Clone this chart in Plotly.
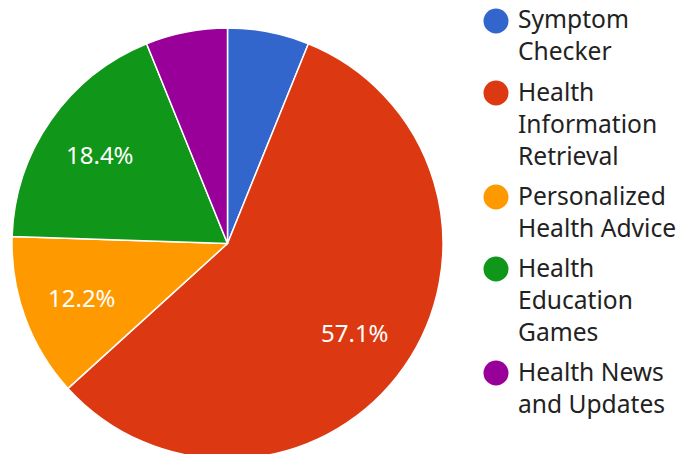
import math
import plotly.graph_objects as go

labels = ["Symptom Checker", "Health Information Retrieval", "Personalized Health Advice",
          "Health Education Games", "Health News and Updates"]
legend_lines = [["Symptom", "Checker"], ["Health", "Information", "Retrieval"],
                ["Personalized", "Health Advice"], ["Health", "Education", "Games"],
                ["Health News", "and Updates"]]
values = [3, 28, 6, 9, 3]
colors = ["#3366cc", "#dc3912", "#ff9900", "#109618", "#990099"]

W, H = 677, 487
FONT = "Noto Sans"
X0, X1 = 12, 443            # pie horizontal extent (px)
CX, CY = (X0 + X1) / 2, H / 2
R = (X1 - X0) / 2

total = sum(values)

fig = go.Figure()
fig.add_trace(go.Pie(
    labels=labels, values=values, sort=False, direction="clockwise", rotation=0,
    marker=dict(colors=colors, line=dict(color="white", width=1.5)),
    textinfo="none",
    domain=dict(x=[X0 / W, X1 / W], y=[0, 1]),
    showlegend=False, hoverinfo="label+percent",
))

annotations = []
# slice labels along the bisector of each slice, like the original
cum = 0.0
for v in values:
    frac = v / total
    mid = (cum + frac / 2) * 2 * math.pi
    cum += frac
    if frac < 0.1:
        continue
    px = CX + 0.72 * R * math.sin(mid)
    py = CY - 0.72 * R * math.cos(mid)
    annotations.append(dict(xref="paper", yref="paper", x=px / W, y=1 - py / H,
                            xanchor="center", yanchor="middle", showarrow=False,
                            text=f"{frac * 100:.1f}%",
                            font=dict(family=FONT, size=24, color="white")))

shapes = []
y = 21
for lines, c in zip(legend_lines, colors):
    shapes.append(dict(type="circle", xref="paper", yref="paper",
                       xsizemode="pixel", ysizemode="pixel",
                       xanchor=496 / W, yanchor=1 - y / H,
                       x0=-12.5, x1=12.5, y0=-12.5, y1=12.5,
                       fillcolor=c, line=dict(width=0)))
    annotations.append(dict(xref="paper", yref="paper", x=517 / W, y=1 - (y - 19.5) / H,
                            xanchor="left", yanchor="top", align="left", borderpad=0,
                            text="<br>".join(lines), showarrow=False,
                            font=dict(family=FONT, size=24.6, color="#222222")))
    y += len(lines) * 32 + 8

fig.update_layout(
    width=W, height=H, margin=dict(l=0, r=0, t=0, b=0),
    paper_bgcolor="white", plot_bgcolor="white",
    shapes=shapes, annotations=annotations,
)

fig.write_html("out.html", config={"displayModeBar": False},
               post_script="document.body.style.margin='0';document.body.style.overflow='hidden';")
